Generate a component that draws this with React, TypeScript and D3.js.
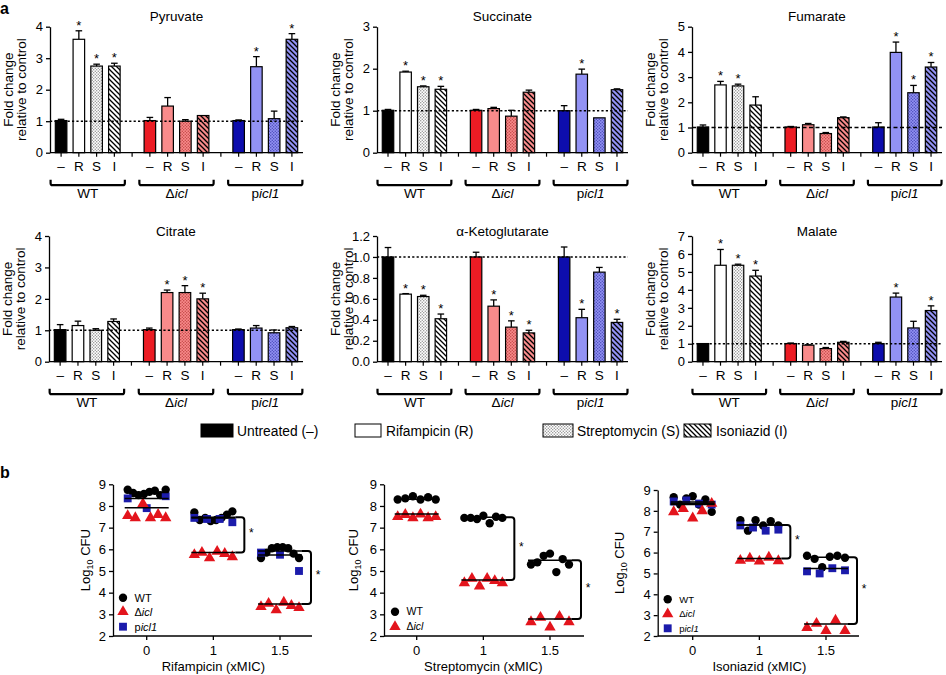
import { useEffect, useRef } from 'react';
import * as d3 from 'd3';

const W = 946;
const H = 675;
const FONT = "'Liberation Sans', Arial, Helvetica, sans-serif";

// ── Panel a: 12 bars per metabolite, WT(–,R,S,I) Δicl(–,R,S,I) picl1(–,R,S,I)
const GROUP_PARTS: [string, string][] = [['WT', ''], ['Δ', 'icl'], ['p', 'icl1']];
const TREATMENTS = ['–', 'R', 'S', 'I'];
const LEGEND_LABELS = ['Untreated (–)', 'Rifampicin (R)', 'Streptomycin (S)', 'Isoniazid (I)'];

const pyruvateMean = [1.02, 3.6, 2.75, 2.75, 1.02, 1.48, 1.0, 1.18, 1.02, 2.73, 1.08, 3.6];
const pyruvateErr = [0.04, 0.27, 0.06, 0.09, 0.1, 0.27, 0.05, 0, 0.02, 0.32, 0.24, 0.18];
const pyruvateSig = [0, 1, 1, 1, 0, 0, 0, 0, 0, 1, 0, 1];

const succinateMean = [1.01, 1.92, 1.57, 1.51, 1.01, 1.05, 0.87, 1.44, 1.0, 1.87, 0.83, 1.5];
const succinateErr = [0.02, 0.02, 0.02, 0.07, 0.02, 0.03, 0.14, 0.05, 0.12, 0.12, 0, 0.02];
const succinateSig = [0, 1, 1, 1, 0, 0, 0, 0, 0, 1, 0, 0];

const fumarateMean = [1.02, 2.69, 2.65, 1.89, 1.02, 1.11, 0.76, 1.39, 1.02, 3.98, 2.38, 3.4];
const fumarateErr = [0.08, 0.14, 0.07, 0.33, 0.02, 0.05, 0.04, 0.03, 0.17, 0.41, 0.29, 0.18];
const fumarateSig = [0, 1, 1, 0, 0, 0, 0, 0, 0, 1, 1, 1];

const citrateMean = [1.02, 1.15, 1.0, 1.28, 1.02, 2.2, 2.2, 2.0, 1.02, 1.07, 0.92, 1.08];
const citrateErr = [0.16, 0.14, 0.05, 0.08, 0.05, 0.08, 0.22, 0.18, 0.02, 0.08, 0.09, 0.04];
const citrateSig = [0, 0, 0, 0, 0, 1, 1, 1, 0, 0, 0, 0];

const akgMean = [1.0, 0.645, 0.622, 0.41, 1.0, 0.53, 0.33, 0.275, 1.0, 0.42, 0.855, 0.375];
const akgErr = [0.09, 0.005, 0.012, 0.045, 0.045, 0.06, 0.06, 0.025, 0.095, 0.08, 0.045, 0.03];
const akgSig = [0, 1, 1, 1, 0, 1, 1, 1, 0, 1, 0, 1];

const malateMean = [1.01, 5.37, 5.37, 4.77, 1.01, 0.92, 0.73, 1.08, 1.01, 3.6, 1.88, 2.85];
const malateErr = [0, 0.88, 0.06, 0.32, 0.03, 0.02, 0.06, 0.05, 0.07, 0.22, 0.37, 0.26];
const malateSig = [0, 1, 1, 1, 0, 0, 0, 0, 0, 1, 0, 1];

// ── Panel b: log10 CFU per dose (0, 1, 1.5 xMIC)
const DOSES = ['0', '1', '1.5'];

const rifWT = [[8.75, 8.6, 8.5, 8.55, 8.65, 8.7, 8.5, 8.75], [7.7, 7.35, 7.45, 7.3, 7.35, 7.45, 7.6, 7.75], [5.6, 5.85, 6.05, 6.1, 6.1, 6.05, 5.8, 5.6]];
const rifIcl = [[7.55, 7.45, 8.1, 7.45, 7.6, 7.45], [5.75, 5.85, 5.6, 5.9, 5.8, 5.65], [3.35, 3.5, 3.2, 3.55, 3.4, 3.3]];
const rifPicl = [[8.35, 7.9, 8.45], [7.45, 7.4, 7.4, 7.25], [5.85, 5.75, 5.0]];
const rifWTLine = [8.62, 7.48, 5.92];
const rifIclLine = [7.92, 5.85, 3.48];
const rifPiclLine = [8.35, 7.45, 5.74];

const strWT = [[8.3, 8.35, 8.45, 8.3, 8.4, 8.3], [7.45, 7.45, 7.4, 7.55, 7.2, 7.5, 7.45], [5.3, 5.4, 5.7, 5.8, 4.95, 5.55, 5.3]];
const strIcl = [[7.5, 7.6, 7.45, 7.62, 7.45, 7.5], [4.45, 4.65, 4.3, 4.65, 4.55, 4.45], [2.65, 2.85, 2.4, 2.9, 2.65]];
const strWTLine = [8.31, 7.48, 5.5];
const strIclLine = [7.63, 4.58, 2.78];

const isoWT = [[8.65, 8.3, 8.6, 8.7, 8.3, 8.55, 7.95], [7.55, 7.05, 7.55, 7.3, 7.5, 7.3], [5.85, 5.7, 5.3, 5.8, 5.85, 5.75]];
const isoIcl = [[7.95, 8.1, 7.65, 8.0, 8.35], [5.62, 5.72, 5.58, 5.77, 5.6], [2.4, 2.6, 2.25, 2.75, 2.25]];
const isoPicl = [[8.45, 8.5, 8.35, 8.3], [7.3, 7.2, 7.05, 7.1], [5.1, 5.0, 5.25, 5.15]];
const isoWTLine = [8.42, 7.32, 5.77];
const isoIclLine = [8.3, 5.72, 2.58];
const isoPiclLine = [8.35, 7.32, 5.24];

// Colours
const DARK = ['#000000', '#ec1c24', '#0d0dad'];
const LIGHT = ['#ffffff', '#f98b8b', '#9292f4'];
const DOT = ['#6e6e6e', '#b03030', '#3434a6'];
const PT_COLORS = ['#000000', '#e3141c', '#1b1bab'];

const ROWS = [
  { y0: 152.7, yTop: 26.7, titleY: 21 },
  { y0: 361.7, yTop: 236, titleY: 235.5 },
];

const PANELS_A = [
  { title: 'Pyruvate', mean: pyruvateMean, err: pyruvateErr, sig: pyruvateSig, max: 4, step: 1, dec: false, dash: '2.2,2.2', row: 0, ax: 50, ex: 303 },
  { title: 'Succinate', mean: succinateMean, err: succinateErr, sig: succinateSig, max: 3, step: 1, dec: false, dash: '2.2,2.2', row: 0, ax: 377, ex: 628 },
  { title: 'Fumarate', mean: fumarateMean, err: fumarateErr, sig: fumarateSig, max: 5, step: 1, dec: false, dash: '4,2.5', row: 0, ax: 692, ex: 942 },
  { title: 'Citrate', mean: citrateMean, err: citrateErr, sig: citrateSig, max: 4, step: 1, dec: false, dash: '2.2,2.2', row: 1, ax: 49, ex: 303 },
  { title: 'α-Ketoglutarate', mean: akgMean, err: akgErr, sig: akgSig, max: 1.2, step: 0.2, dec: true, dash: '2.2,2.2', row: 1, ax: 377, ex: 628 },
  { title: 'Malate', mean: malateMean, err: malateErr, sig: malateSig, max: 7, step: 1, dec: false, dash: '2.2,2.2', row: 1, ax: 692, ex: 942 },
];

const PANELS_B = [
  {
    title: 'Rifampicin (xMIC)', series: [rifWT, rifIcl, rifPicl], lines: [rifWTLine, rifIclLine, rifPiclLine],
    ax: 113, ex: 312, xr: [146.7, 280], yr: [636, 484.3], labelX: 85, legX: 123, legY: [597.7, 611.7, 626.7], legFont: 11,
  },
  {
    title: 'Streptomycin (xMIC)', series: [strWT, strIcl], lines: [strWTLine, strIclLine],
    ax: 384, ex: 584, xr: [416.7, 550], yr: [636, 484.3], labelX: 353, legX: 395, legY: [611.7, 626.7], legFont: 10.5,
  },
  {
    title: 'Isoniazid (xMIC)', series: [isoWT, isoIcl, isoPicl], lines: [isoWTLine, isoIclLine, isoPiclLine],
    ax: 657.7, ex: 859, xr: [692.7, 826], yr: [636, 490], labelX: 619, legX: 667.7, legY: [599.3, 614, 628.3], legFont: 9.5,
  },
];

const SYMBOLS = [d3.symbolCircle, d3.symbolTriangle, d3.symbolSquare];
const SYM_SIZE = [55, 56, 62];

function barFill(grp: number, t: number): string {
  if (t === 0) return DARK[grp];
  if (t === 1) return LIGHT[grp];
  if (t === 2) return `url(#stip-${grp})`;
  return `url(#str-${grp})`;
}

function addGroupLabel(text: d3.Selection<SVGTextElement, unknown, null, undefined>, grp: number) {
  const [plain, ital] = GROUP_PARTS[grp];
  text.append('tspan').text(plain);
  if (ital) text.append('tspan').attr('font-style', 'italic').text(ital);
}

export default function App() {
  const svgRef = useRef<SVGSVGElement>(null);

  useEffect(() => {
    if (!svgRef.current) return;
    const svg = d3.select(svgRef.current);
    svg.selectAll('*').remove();
    svg.attr('font-family', FONT);

    svg.append('rect').attr('width', W).attr('height', H).attr('fill', '#fff');

    // ── Patterns: stipple (S) and back-diagonal stripes (I)
    const defs = svg.append('defs');
    for (let g = 0; g < 3; g++) {
      const st = defs.append('pattern').attr('id', `stip-${g}`).attr('patternUnits', 'userSpaceOnUse')
        .attr('width', 3).attr('height', 3);
      st.append('rect').attr('width', 3).attr('height', 3).attr('fill', LIGHT[g]);
      st.append('rect').attr('x', 0.2).attr('y', 0.2).attr('width', 1.1).attr('height', 1.1).attr('fill', DOT[g]);
      st.append('rect').attr('x', 1.7).attr('y', 1.7).attr('width', 1.1).attr('height', 1.1).attr('fill', DOT[g]);

      const sr = defs.append('pattern').attr('id', `str-${g}`).attr('patternUnits', 'userSpaceOnUse')
        .attr('width', 5).attr('height', 5);
      sr.append('rect').attr('width', 5).attr('height', 5).attr('fill', LIGHT[g]);
      sr.append('path').attr('d', 'M0,0L5,5M-1,4L1,6M4,-1L6,1')
        .attr('stroke', '#000').attr('stroke-width', 1.3);
    }

    // ── Panel letters
    svg.append('text').attr('x', 0).attr('y', 14).attr('font-size', 16).attr('font-weight', 'bold').text('a');
    svg.append('text').attr('x', 0).attr('y', 478).attr('font-size', 16).attr('font-weight', 'bold').text('b');

    // ── Panel a bar charts
    PANELS_A.forEach(p => {
      const { y0, yTop, titleY } = ROWS[p.row];
      const y = d3.scaleLinear().domain([0, p.max]).range([y0, yTop]);
      const x = d3.scaleBand<number>().domain(d3.range(14)).range([p.ax, p.ex])
        .paddingInner(0.35).paddingOuter(0.3);
      const cx = (slot: number) => (x(slot) ?? 0) + x.bandwidth() / 2;
      const g = svg.append('g');

      const bars = p.mean.map((m, i) => ({
        m, e: p.err[i], s: p.sig[i], grp: Math.floor(i / 4), t: i % 4, slot: Math.floor(i / 4) * 5 + (i % 4),
      }));

      // error bars (upper only)
      bars.filter(d => d.e > 0).forEach(d => {
        const c = cx(d.slot);
        g.append('line').attr('x1', c).attr('x2', c).attr('y1', y(d.m)).attr('y2', y(d.m + d.e))
          .attr('stroke', '#000').attr('stroke-width', 1.3);
        g.append('line').attr('x1', c - 3.3).attr('x2', c + 3.3).attr('y1', y(d.m + d.e)).attr('y2', y(d.m + d.e))
          .attr('stroke', '#000').attr('stroke-width', 1.3);
      });

      g.selectAll('rect.bar').data(bars).enter().append('rect')
        .attr('class', 'bar')
        .attr('x', d => x(d.slot) ?? 0)
        .attr('width', x.bandwidth())
        .attr('y', d => y(d.m))
        .attr('height', d => y0 - y(d.m))
        .attr('fill', d => barFill(d.grp, d.t))
        .attr('stroke', '#000').attr('stroke-width', 1.2);

      // reference line at 1
      g.append('line').attr('x1', p.ax).attr('x2', p.ex).attr('y1', y(1)).attr('y2', y(1))
        .attr('stroke', '#000').attr('stroke-width', 1.4).attr('stroke-dasharray', p.dash);

      // significance stars
      g.selectAll('text.star').data(bars.filter(d => d.s)).enter().append('text')
        .attr('class', 'star')
        .attr('x', d => cx(d.slot)).attr('y', d => y(d.m + d.e) - 1)
        .attr('text-anchor', 'middle').attr('font-size', 13).text('*');

      // y axis
      const fmt = d3.format(p.dec ? '.1f' : 'd');
      const yAxis = d3.axisLeft(y).tickValues(d3.range(0, p.max + 1e-9, p.step))
        .tickSize(4).tickSizeOuter(0).tickPadding(3).tickFormat(d => fmt(d as number));
      const ya = g.append('g').attr('transform', `translate(${p.ax},0)`).call(yAxis);
      ya.attr('font-family', FONT).attr('font-size', 13);
      ya.select('.domain').attr('stroke-width', 1.3);
      ya.selectAll('.tick line').attr('stroke-width', 1.3);
      ya.selectAll('.tick text').attr('fill', '#000');

      // x axis with a tick at every slot
      g.append('line').attr('x1', p.ax).attr('x2', p.ex).attr('y1', y0).attr('y2', y0)
        .attr('stroke', '#000').attr('stroke-width', 1.3);
      d3.range(14).forEach(s => {
        g.append('line').attr('x1', cx(s)).attr('x2', cx(s)).attr('y1', y0).attr('y2', y0 + 4)
          .attr('stroke', '#000').attr('stroke-width', 1.2);
      });
      bars.forEach(d => {
        g.append('text').attr('x', cx(d.slot)).attr('y', y0 + 18.5).attr('text-anchor', 'middle')
          .attr('font-size', 13.5).text(TREATMENTS[d.t]);
      });

      // group brackets
      for (let grp = 0; grp < 3; grp++) {
        const x1 = cx(grp * 5) - 10.5;
        const x2 = cx(grp * 5 + 3) + 10.5;
        const t = y0 + 27;
        const b = y0 + 32.5;
        g.append('path')
          .attr('d', `M${x1},${t}V${b - 2}Q${x1},${b} ${x1 + 2},${b}H${x2 - 2}Q${x2},${b} ${x2},${b - 2}V${t}`)
          .attr('fill', 'none').attr('stroke', '#000').attr('stroke-width', 2.2);
        const lab = g.append('text').attr('x', (x1 + x2) / 2).attr('y', y0 + 45.5)
          .attr('text-anchor', 'middle').attr('font-size', 13.5);
        addGroupLabel(lab, grp);
      }

      // titles
      g.append('text').attr('x', (p.ax + p.ex) / 2).attr('y', titleY).attr('text-anchor', 'middle')
        .attr('font-size', 13.5).text(p.title);
      const midY = (y0 + yTop) / 2;
      g.append('text').attr('transform', `translate(${p.ax - 37.5},${midY}) rotate(-90)`)
        .attr('text-anchor', 'middle').attr('font-size', 13.5).text('Fold change');
      g.append('text').attr('transform', `translate(${p.ax - 24},${midY}) rotate(-90)`)
        .attr('text-anchor', 'middle').attr('font-size', 13.5).text('relative to control');
    });

    // ── Shared legend for panel a
    const legBoxX = [201, 355, 543, 684];
    const legBoxW = [32, 26, 30, 27];
    const legTextX = [237, 386, 577, 716];
    LEGEND_LABELS.forEach((lab, i) => {
      svg.append('rect').attr('x', legBoxX[i]).attr('y', 424).attr('width', legBoxW[i]).attr('height', 13)
        .attr('fill', barFill(0, i)).attr('stroke', '#000').attr('stroke-width', 1);
      svg.append('text').attr('x', legTextX[i]).attr('y', 435.5).attr('font-size', 13.8).text(lab);
    });

    // ── Panel b scatter plots
    PANELS_B.forEach(p => {
      const g = svg.append('g');
      const y = d3.scaleLinear().domain([2, 9]).range(p.yr);
      const x = d3.scalePoint<string>().domain(DOSES).range(p.xr);
      const yB = p.yr[0];

      // points: WT, then picl1, then Δicl
      const order = p.series.length === 3 ? [0, 2, 1] : [0, 1];
      order.forEach(si => {
        p.series[si].forEach((vals, di) => {
          const xc = x(DOSES[di]) ?? 0;
          const n = vals.length;
          vals.forEach((v, i) => {
            const off = n > 1 ? (i / (n - 1) - 0.5) * 38 : 0;
            g.append('path')
              .attr('d', d3.symbol().type(SYMBOLS[si]).size(SYM_SIZE[si])() ?? '')
              .attr('transform', `translate(${xc + off},${y(v)})`)
              .attr('fill', PT_COLORS[si]);
          });
        });
      });

      // group lines
      p.lines.forEach(line => {
        line.forEach((v, di) => {
          const xc = x(DOSES[di]) ?? 0;
          g.append('line').attr('x1', xc - 22).attr('x2', xc + 22).attr('y1', y(v)).attr('y2', y(v))
            .attr('stroke', '#000').attr('stroke-width', 1.5);
        });
      });

      // significance brackets WT vs Δicl at 1 and 1.5 xMIC
      [1, 2].forEach(di => {
        const xc = x(DOSES[di]) ?? 0;
        const bx = xc + 31;
        const a = xc + 22;
        const y1 = y(p.lines[0][di]);
        const y2 = y(p.lines[1][di]);
        g.append('path')
          .attr('d', `M${a},${y1}H${bx - 3}Q${bx},${y1} ${bx},${y1 + 3}V${y2 - 3}Q${bx},${y2} ${bx - 3},${y2}H${a}`)
          .attr('fill', 'none').attr('stroke', '#000').attr('stroke-width', 2);
        g.append('text').attr('x', bx + 7).attr('y', (y1 + y2) / 2 + 2).attr('text-anchor', 'middle')
          .attr('font-size', 12).text('*');
      });

      // axes
      const yAxis = d3.axisLeft(y).tickValues(d3.range(2, 10)).tickSize(4).tickSizeOuter(0).tickPadding(3)
        .tickFormat(d3.format('d'));
      const ya = g.append('g').attr('transform', `translate(${p.ax},0)`).call(yAxis);
      ya.attr('font-family', FONT).attr('font-size', 13);
      ya.select('.domain').attr('stroke-width', 1.3);
      ya.selectAll('.tick line').attr('stroke-width', 1.3);
      ya.selectAll('.tick text').attr('fill', '#000');

      g.append('line').attr('x1', p.ax).attr('x2', p.ex).attr('y1', yB).attr('y2', yB)
        .attr('stroke', '#000').attr('stroke-width', 1.3);
      DOSES.forEach(d => {
        const xc = x(d) ?? 0;
        g.append('line').attr('x1', xc).attr('x2', xc).attr('y1', yB).attr('y2', yB + 4)
          .attr('stroke', '#000').attr('stroke-width', 1.3);
        g.append('text').attr('x', xc).attr('y', yB + 19).attr('text-anchor', 'middle')
          .attr('font-size', 13).text(d);
      });
      g.append('text').attr('x', x(DOSES[1]) ?? 0).attr('y', yB + 35).attr('text-anchor', 'middle')
        .attr('font-size', 13).text(p.title);

      const yl = g.append('text')
        .attr('transform', `translate(${p.labelX + 4.5},${(p.yr[0] + p.yr[1]) / 2}) rotate(-90)`)
        .attr('text-anchor', 'middle').attr('font-size', 13);
      yl.append('tspan').text('Log');
      yl.append('tspan').attr('font-size', 9).attr('dy', 3).text('10');
      yl.append('tspan').attr('dy', -3).text(' CFU');

      // legend
      p.series.forEach((_, si) => {
        const ly = p.legY[si];
        g.append('path')
          .attr('d', d3.symbol().type(SYMBOLS[si]).size(SYM_SIZE[si])() ?? '')
          .attr('transform', `translate(${p.legX},${ly})`)
          .attr('fill', PT_COLORS[si]);
        const t = g.append('text').attr('x', p.legX + 11.5).attr('y', ly + p.legFont * 0.36)
          .attr('font-size', p.legFont);
        addGroupLabel(t, si);
      });
    });
  }, []);

  return (
    <svg
      ref={svgRef}
      width={W}
      height={H}
      style={{ position: 'absolute', left: 0, top: 0, background: '#fff' }}
    />
  );
}
